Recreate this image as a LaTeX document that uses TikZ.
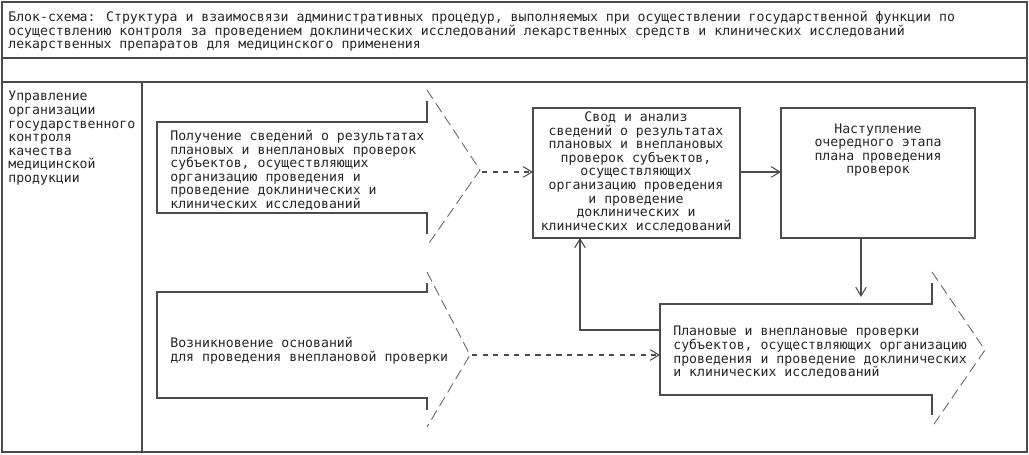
\documentclass[tikz,border=0pt]{standalone}
\usepackage{fontspec}
\setmainfont{DejaVu Sans Mono}
\begin{document}
\begin{tikzpicture}[x=0.02cm,y=-0.02cm,
  txt/.style={inner sep=0pt,font=\fontsize{7.5pt}{7.7pt}\selectfont,text=black!85},
  ln/.style={draw=black!70,line width=0.6pt},
  chev/.style={draw=black!60,line width=0.5pt,dash pattern=on 6pt off 3pt},
  arr/.style={ln,-{Straight Barb[length=5pt,width=6pt]}},
  darr/.style={ln,dashed,-{Straight Barb[length=5pt,width=6pt]}}]
\usetikzlibrary{arrows.meta}
\useasboundingbox (0,0) rectangle (1029,455);
% frame
\draw[ln] (2,2) rectangle (1027,452);
\draw[ln] (2,58) -- (1027,58);
\draw[ln] (2,82) -- (1027,82);
\draw[ln] (142,82) -- (142,452);
\node[txt,anchor=north west,align=left] (title) at (8,11) {Блок-схема: Структура и взаимосвязи административных процедур, выполняемых при осуществлении государственной функции по\\осуществлению контроля за проведением доклинических исследований лекарственных средств и клинических исследований\\лекарственных препаратов для медицинского применения};
\node[txt,anchor=north west,align=left] (lane) at (8,91) {Управление\\организации\\государственного\\контроля\\качества\\медицинской\\продукции};
% arrow 1
\draw[ln] (427,101) -- (427,122) -- (157,122) -- (157,213) -- (427,213) -- (427,234);
\draw[chev] (427,90) -- (480,170) -- (427,246);
\node[txt,anchor=north west,align=left] (a1) at (170,130) {Получение сведений о результатах\\плановых и внеплановых проверок\\субъектов, осуществляющих\\организацию проведения и\\проведение доклинических и\\клинических исследований};
\coordinate (t1) at (482,172);
% box 2, 3
\draw[ln] (533,108) rectangle (740,238);
\node[txt,align=center] (b2) at (636,172) {Свод и анализ\\сведений о результатах\\плановых и внеплановых\\проверок субъектов,\\осуществляющих\\организацию проведения\\и проведение\\доклинических и\\клинических исследований};
\draw[ln] (781,108) rectangle (975,238);
\node[txt,align=center] (b3) at (878,150) {Наступление\\очередного этапа\\плана проведения\\проверок};
\coordinate (b2l) at (533,172);
\coordinate (b2r) at (740,172);
\coordinate (b3l) at (781,172);
\coordinate (b3b) at (861,238);
\coordinate (b2b) at (580,238);
\draw[darr] (t1) -- (b2l);
\draw[arr] (b2r) -- (b3l);
% arrow 2
\draw[ln] (427,283) -- (427,292) -- (157,292) -- (157,398) -- (427,398) -- (427,410);
\draw[chev] (427,272) -- (470,355) -- (427,427);
\node[txt,anchor=north west,align=left] (a2) at (170,337) {Возникновение оснований\\для проведения внеплановой проверки};
\coordinate (t2) at (472,355);
% arrow 3
\draw[ln] (932,283) -- (932,304) -- (660,304) -- (660,395) -- (932,395) -- (932,415);
\draw[chev] (932,272) -- (985,350) -- (932,427);
\node[txt,anchor=north west,align=left] (a3) at (673,326) {Плановые и внеплановые проверки\\субъектов, осуществляющих организацию\\проведения и проведение доклинических\\и клинических исследований};
\coordinate (a3l) at (660,355);
\coordinate (a3t) at (861,297);
\coordinate (a3w) at (660,330);
\draw[darr] (t2) -- (a3l);
\draw[arr] (b3b) -- (a3t);
\draw[arr] (a3w) -- (580,330) -- (b2b);
\end{tikzpicture}
\end{document}
